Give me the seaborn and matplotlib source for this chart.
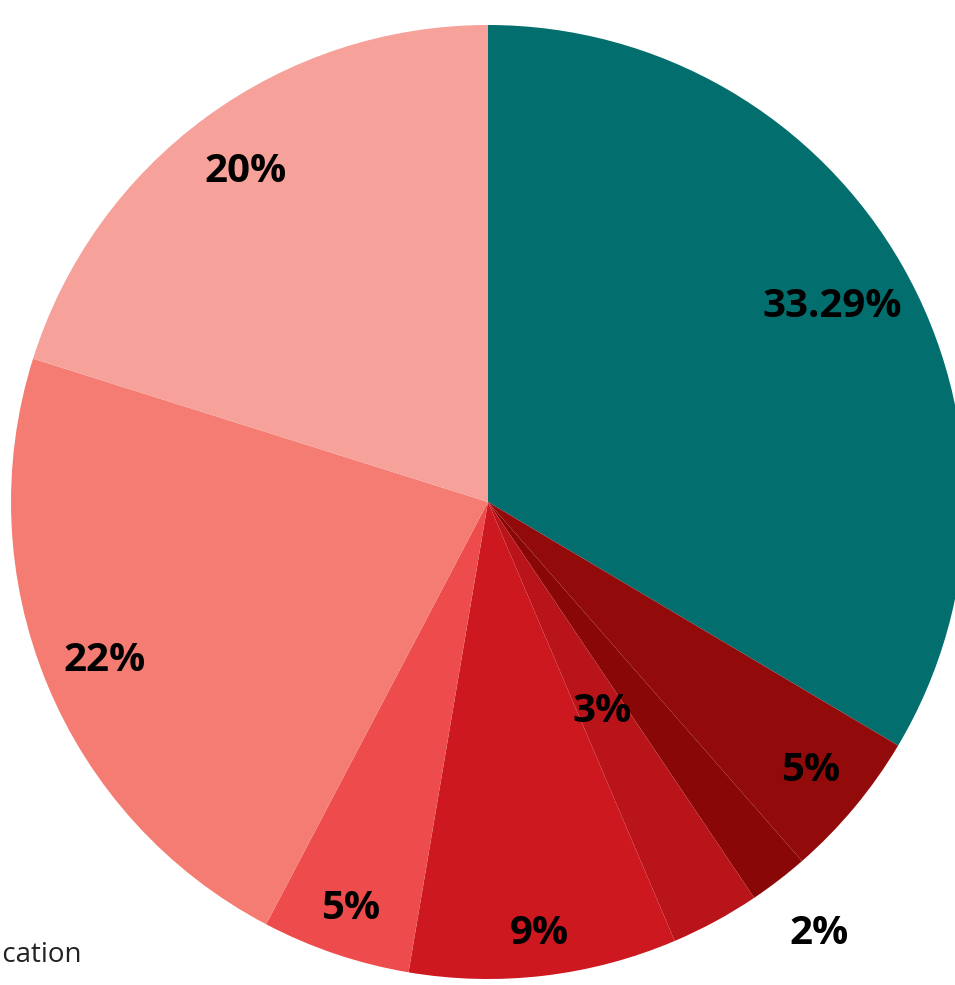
import matplotlib
matplotlib.use("Agg")
import numpy as np
import matplotlib.pyplot as plt
import seaborn as sns

sns.set_theme(style="white")
plt.rcParams['font.family'] = ['Open Sans', 'DejaVu Sans']

# slices, clockwise from 12 o'clock
labels = ["33.29%", "5%", "2%", "3%", "9%", "5%", "22%", "20%"]
values = [33.29, 5, 2, 3, 9, 5, 22, 20]
colors = sns.color_palette(["#036e6e", "#930a0a", "#8a0707", "#b8141a",
                            "#cc181e", "#ee4c4c", "#f47c72", "#f6a29b"])
label_r = [0.83, 0.88, 1.14, 0.5, 0.91, 0.9, 0.87, 0.86]

fig = plt.figure(figsize=(9.55, 9.85), dpi=100)
ax = fig.add_axes([11 / 955, 6 / 985, 954 / 955, 954 / 985])
wedges, _ = ax.pie(values, colors=colors, startangle=90, counterclock=False,
                   radius=1, wedgeprops=dict(linewidth=0))
for w, lab, r in zip(wedges, labels, label_r):
    ang = np.deg2rad((w.theta1 + w.theta2) / 2)
    ax.text(r * np.cos(ang), r * np.sin(ang), lab, ha="center", va="center",
            fontsize=29, fontweight="bold", color="black")
ax.set_xlim(-1, 1)
ax.set_ylim(-1, 1)
ax.axis("off")

fig.text(82 / 955, 1 - 955 / 985, "Education", ha="right", va="center",
         fontsize=20, color="#222222")
fig.savefig("out.png", dpi=100)
